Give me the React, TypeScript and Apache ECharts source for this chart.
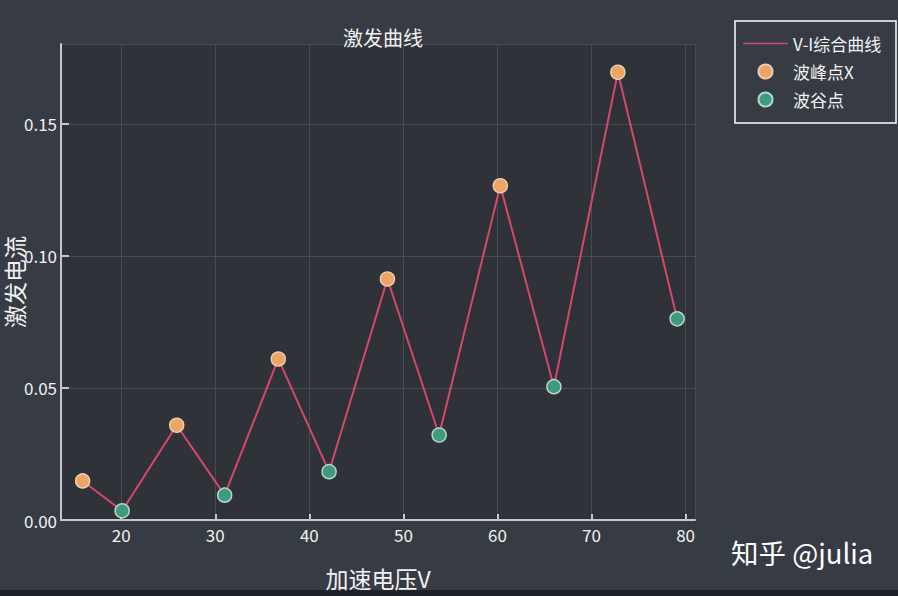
import { useEffect, useRef } from 'react'
import * as echarts from 'echarts'

// 波峰点 (加速电压, 激发电流)
const peakX = [15.9, 25.9, 36.7, 48.3, 60.3, 72.8]
const peakY = [0.0148, 0.0359, 0.061, 0.0913, 0.1266, 0.1696]
// 波谷点
const valleyX = [20.1, 31.0, 42.1, 53.8, 66.0, 79.1]
const valleyY = [0.0035, 0.0094, 0.0183, 0.0322, 0.0505, 0.0762]

const seriesNames = ['V-I综合曲线', '波峰点X', '波谷点']

const FONT = '"Noto Sans CJK SC", "Noto Sans", sans-serif'

const colors = {
  bg: '#363b44',
  plot: '#2f3239',
  grid: '#464a52',
  axis: '#c4c6ca',
  text: '#f2f2f2',
  line: '#d6486a',
  peak: '#eea563',
  peakBorder: '#e9cfb2',
  valley: '#3f9a7e',
  valleyBorder: '#b4d8cc',
}

export default function App() {
  const chartRef = useRef<HTMLDivElement>(null)

  useEffect(() => {
    if (!chartRef.current) return
    const chart = echarts.init(chartRef.current, undefined, { renderer: 'svg' })

    // 综合曲线: 峰谷交替连接
    const combined: number[][] = []
    for (let i = 0; i < peakX.length; i++) {
      combined.push([peakX[i], peakY[i]])
      combined.push([valleyX[i], valleyY[i]])
    }

    const option: echarts.EChartsOption = {
      backgroundColor: colors.bg,
      animation: false,
      textStyle: { fontFamily: FONT },
      title: {
        text: '激发曲线',
        left: 378,
        top: 22,
        textAlign: 'center',
        textStyle: { color: colors.text, fontSize: 20, fontWeight: 'normal', fontFamily: FONT },
      },
      legend: {
        orient: 'vertical',
        left: 735,
        top: 21,
        padding: [14, 10, 14, 8],
        borderWidth: 0,
        itemWidth: 45,
        itemHeight: 14,
        itemGap: 11,
        data: [
          { name: seriesNames[0], icon: 'path://M0,6L45,6L45,7.6L0,7.6Z' },
          { name: seriesNames[1], icon: 'circle' },
          { name: seriesNames[2], icon: 'circle' },
        ],
        textStyle: { color: colors.text, fontSize: 17, lineHeight: 17, fontFamily: FONT },
      },
      grid: {
        left: 61,
        right: 203,
        top: 44,
        bottom: 76,
        containLabel: false,
        outerBoundsMode: 'none',
        show: true,
        backgroundColor: colors.plot,
        borderWidth: 0,
      } as any,
      xAxis: {
        type: 'value',
        min: 13.6,
        max: 81,
        name: '加速电压V',
        nameLocation: 'middle',
        nameGap: 46,
        nameMoveOverlap: false,
        nameTextStyle: { color: colors.text, fontSize: 23, fontFamily: FONT },
        axisLine: { show: true, onZero: false, lineStyle: { color: colors.axis, width: 2 } },
        axisTick: { show: true, inside: true, length: 6, lineStyle: { color: colors.axis, width: 2 } },
        axisLabel: {
          color: colors.text,
          fontSize: 17,
          margin: 6,
          showMinLabel: false,
          showMaxLabel: false,
          fontFamily: FONT,
        },
        splitLine: { show: true, lineStyle: { color: colors.grid, width: 1 } },
      } as any,
      yAxis: {
        type: 'value',
        min: 0,
        max: 0.1803,
        interval: 0.05,
        name: '激发电流',
        nameLocation: 'middle',
        nameGap: 36,
        nameMoveOverlap: false,
        nameRotate: 90,
        nameTextStyle: { color: colors.text, fontSize: 23, fontFamily: FONT },
        axisLine: { show: true, lineStyle: { color: colors.axis, width: 2 } },
        axisTick: { show: true, inside: true, length: 8, lineStyle: { color: colors.axis, width: 2 } },
        axisLabel: {
          color: colors.text,
          fontSize: 17,
          margin: 4,
          showMaxLabel: false,
          fontFamily: FONT,
          formatter: (v: number) => v.toFixed(2),
        },
        splitLine: { show: true, lineStyle: { color: colors.grid, width: 1 } },
      } as any,
      series: [
        {
          name: seriesNames[0],
          type: 'line',
          data: combined,
          symbol: 'none',
          lineStyle: { color: colors.line, width: 2 },
          itemStyle: { color: colors.line },
          z: 2,
        },
        {
          name: seriesNames[1],
          type: 'scatter',
          data: peakX.map((x, i) => [x, peakY[i]]),
          symbolSize: 14,
          itemStyle: { color: colors.peak, borderColor: colors.peakBorder, borderWidth: 1.5, opacity: 1 },
          z: 3,
        },
        {
          name: seriesNames[2],
          type: 'scatter',
          data: valleyX.map((x, i) => [x, valleyY[i]]),
          symbolSize: 14,
          itemStyle: { color: colors.valley, borderColor: colors.valleyBorder, borderWidth: 1.5, opacity: 1 },
          z: 3,
        },
      ],
      graphic: [
        // 图例边框
        {
          type: 'rect',
          shape: { x: 735, y: 21, width: 161, height: 102 },
          style: { fill: 'none', stroke: '#ffffff', lineWidth: 1.5 },
          z: 0,
        },
        {
          type: 'text',
          left: 731,
          top: 538,
          style: {
            text: '知乎 @julia',
            fill: '#ffffff',
            fontSize: 27.5,
            fontFamily: FONT,
            shadowColor: 'rgba(0,0,0,0.7)',
            shadowBlur: 2,
            shadowOffsetX: 1,
            shadowOffsetY: 1,
          },
        },
        {
          type: 'rect',
          shape: { x: 0, y: 590, width: 898, height: 6 },
          style: { fill: '#1f2128' },
        },
      ],
    }

    chart.setOption(option)
    return () => chart.dispose()
  }, [])

  return (
    <div
      ref={chartRef}
      style={{ position: 'fixed', left: 0, top: 0, width: 898, height: 596 }}
    />
  )
}
